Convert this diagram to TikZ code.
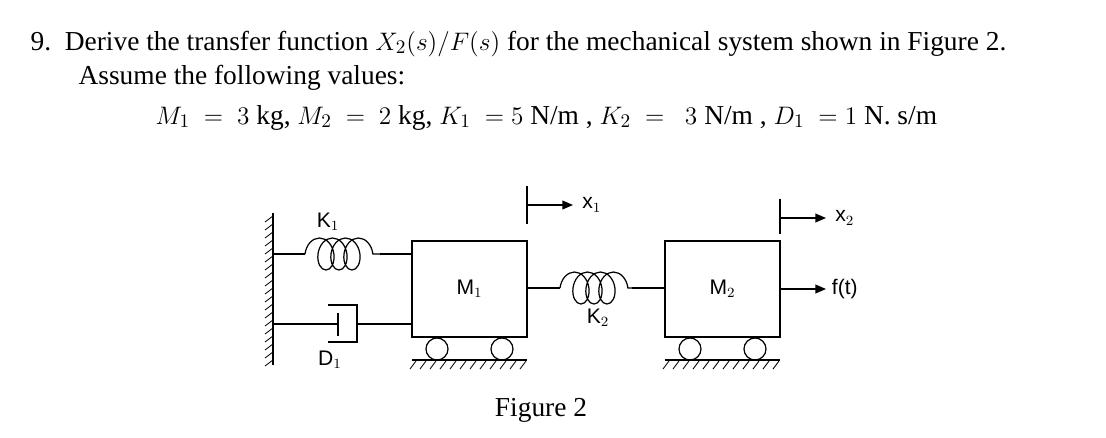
\documentclass[tikz,border=0pt]{standalone}
\usepackage{fontspec}
\setmainfont{Liberation Serif}
\newfontfamily\labelfont{Liberation Sans}
\usetikzlibrary{positioning,calc,decorations.pathmorphing,arrows.meta}
\begin{document}
\begin{tikzpicture}[
    x=0.02cm, y=-0.02cm,
    line width=0.7pt,
    mass/.style={draw, minimum width=2.3cm, minimum height=1.92cm, inner sep=0pt, font=\labelfont\fontsize{12}{14}\selectfont},
    lbl/.style={font=\labelfont\fontsize{12}{14}\selectfont, inner sep=0pt},
    txt/.style={font=\fontsize{15.6}{18}\selectfont, anchor=base west, inner sep=0pt},
    spring/.style={decorate, decoration={coil, aspect=0.7, segment length=13*0.02cm, amplitude=16*0.02cm}},
    arr/.style={-{Triangle[length=6pt,width=5pt]}},
    wheel/.style={draw, circle, minimum size=0.44cm, inner sep=0pt}
]
\useasboundingbox (0,0) rectangle (1106,437);

% Problem text
\node[txt] (q1) at (30,50) {9.\ \ Derive the transfer function $X_2(s)/F(s)$ for the mechanical system shown in Figure 2.};
\node[txt] (q2) at (78,84) {Assume the following values:};
\node[txt] (q3) at (155,124) {$M_1\ =\ 3$ kg, $M_2\ =\ 2$ kg, $K_1\ =5$ N/m , $K_2\ =\ \ 3$ N/m , $D_1\ =1$ N. s/m};

% Wall
\draw (273,213) -- (273,365);
\foreach \y in {216,224,...,362} \draw[line width=0.5pt] (273,\y) -- (265,\y+6);
\coordinate (wk) at (273,254);
\coordinate (wd) at (273,324);

% Masses
\node[mass] (m1) at (469.5,289) {M$_1$};
\node[mass] (m2) at (722.5,289) {M$_2$};

% Wheels and ground
\foreach \m/\a/\b in {m1/437/502, m2/690/755} {
  \node[wheel] (\m wa) at (\a,349) {};
  \node[wheel] (\m wb) at (\b,349) {};
}
\foreach \l in {412,665} {
  \draw (\l,360) -- (\l+115,360);
  \foreach \h in {4,14,...,114} \draw[line width=0.5pt] (\l+\h,361) -- (\l+\h-6,369);
}

% Spring K1
\coordinate (k1a) at (305,254);
\coordinate (k1b) at (380,254);
\draw (wk) -- (k1a);
\draw[spring] (k1a) -- (k1b);
\draw (k1b) -- (m1.west |- k1b);
\node[lbl] (k1) at (328,222) {K$_1$};

% Damper D1
\coordinate (pis) at (338,324);
\draw (wd) -- (pis);
\draw (338,313) -- (338,336);
\draw (328,305) -- (357,305) -- (357,342) -- (328,342);
\draw (357,324) -- (m1.west |- wd);
\node[lbl] (d1) at (330,360) {D$_1$};

% Spring K2
\coordinate (k2a) at (560,288);
\coordinate (k2b) at (632,288);
\draw (m1.east |- k2a) -- (k2a);
\draw[spring] (k2a) -- (k2b);
\draw (k2b) -- (m2.west |- k2b);
\node[lbl] (k2) at (598,318) {K$_2$};

% Displacements and force
\coordinate (x1a) at (527,205);
\coordinate (x1b) at (573,205);
\draw (527,186) -- (527,224);
\draw[arr] (x1a) -- (x1b);
\node[lbl, right=5pt of x1b] (x1) {x$_1$};
\coordinate (x2a) at (780,218);
\coordinate (x2b) at (826,218);
\draw (780,199) -- (780,234);
\draw[arr] (x2a) -- (x2b);
\node[lbl, right=5pt of x2b] (x2) {x$_2$};
\coordinate (fb) at (826,289);
\draw[arr] (m2.east |- fb) -- (fb);
\node[lbl, right=3pt of fb] (f) {f(t)};

\node[font=\fontsize{15.6}{18}\selectfont] (fig) at (541,410) {Figure 2};
\end{tikzpicture}
\end{document}
